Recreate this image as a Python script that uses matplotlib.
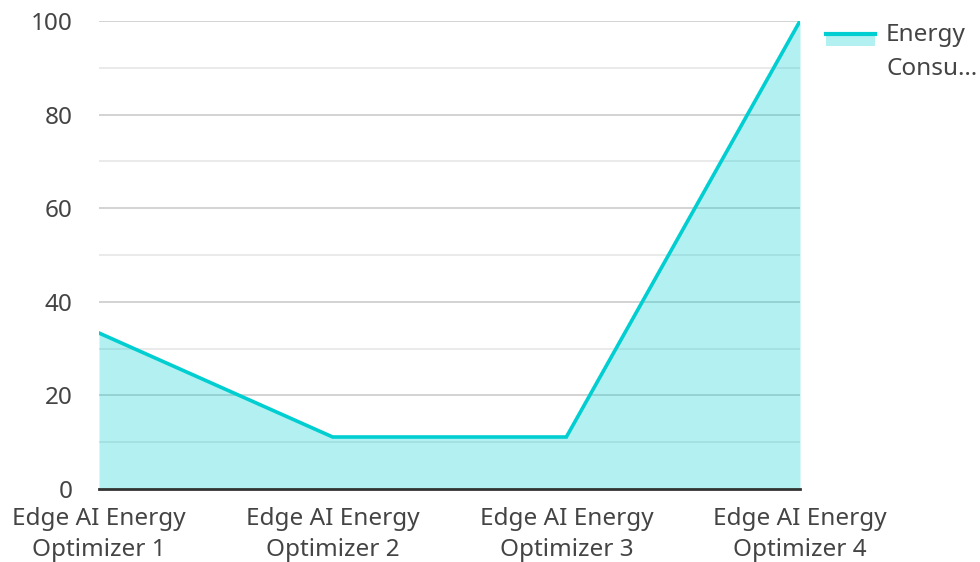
import numpy as np
import matplotlib
matplotlib.use('Agg')
import matplotlib.pyplot as plt
from matplotlib.lines import Line2D
from matplotlib.patches import Rectangle

plt.rcParams['font.family'] = ['Noto Sans', 'DejaVu Sans']

# --------- data --------

categories = ['Edge AI Energy\nOptimizer 1', 'Edge AI Energy\nOptimizer 2',
              'Edge AI Energy\nOptimizer 3', 'Edge AI Energy\nOptimizer 4']
energy = [33.33, 11.11, 11.11, 100.0]
series_name = 'Energy\nConsu…'

# --------- plot-params -----------

linecol = '#00CED1'
textcol = '#444444'
ticksize = 17.5

fig = plt.figure(figsize=(9.8, 5.62), dpi=100)
ax = fig.add_axes([99 / 980, 1 - 489 / 562, 701 / 980, 468 / 562])

x = np.arange(len(categories))
ax.fill_between(x, 0, energy, color=linecol, alpha=0.3, linewidth=0, zorder=2)
ax.plot(x, energy, color=linecol, lw=2.6, zorder=3, solid_joinstyle='miter')

ax.set_xlim(0, len(categories) - 1)
ax.set_ylim(0, 100)

# gridlines: major every 20, minor every 10
for yv in np.arange(10, 101, 10):
    col = '#cccccc' if yv % 20 == 0 else '#e6e6e6'
    ax.axhline(yv, color=col, lw=1.2, zorder=1)
ax.axhline(0, color='#333333', lw=2, zorder=4, clip_on=False)

ax.set_yticks(np.arange(0, 101, 20))
ax.set_xticks(x)
ax.set_xticklabels(categories, linespacing=1.4)
ax.tick_params(axis='both', length=0, labelsize=ticksize, colors=textcol)
ax.tick_params(axis='y', pad=19)
ax.tick_params(axis='x', pad=13)
for s in ax.spines.values():
    s.set_visible(False)

# legend drawn by hand: line on top of the fill swatch
fig.patches.append(Rectangle((826 / 980, 1 - 46 / 562), 49 / 980, 12 / 562,
                             transform=fig.transFigure, color=linecol,
                             alpha=0.3, lw=0))
fig.lines.append(Line2D([826 / 980, 875 / 980], [1 - 34 / 562, 1 - 34 / 562],
                        transform=fig.transFigure, color=linecol, lw=3))
fig.text(886 / 980, 1 - 23 / 562, series_name, fontsize=ticksize,
         color=textcol, va='top', ha='left', linespacing=1.55)

plt.savefig('out.png', dpi=100)
